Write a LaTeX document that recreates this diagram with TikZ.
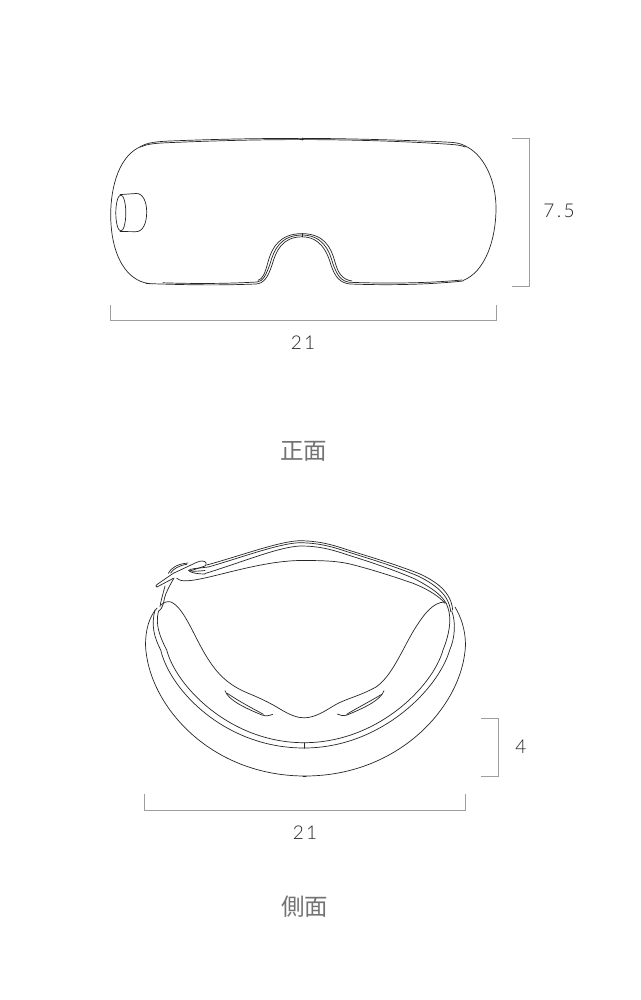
\documentclass[tikz,border=0pt]{standalone}
\usepackage{fontspec}
\newfontfamily\cjkf{Noto Sans CJK TC}
\newfontfamily\numf[LetterSpace=12,UprightFont=* Light]{Lato}
\tikzset{
  ink/.style={line width=0.7pt,draw=black!85,line cap=round,line join=round},
  dimline/.style={line width=0.55pt,draw=black!38},
  numlabel/.style={font=\numf\fontsize{19}{21}\selectfont,text=black!85,inner sep=0},
  caplabel/.style={font=\cjkf\fontsize{23.5}{25}\selectfont,text=black!55,inner sep=0},
}
\def\cc#1#2#3{.. controls #1 and #2 .. #3}
\begin{document}
\begin{tikzpicture}[x=1pt,y=-1pt]
\useasboundingbox[fill=white] (0,0) rectangle (640,1000);
% front view: outline
\draw[ink] (141,146.5) \cc{(120,155)}{(110.7,185)}{(110.7,215)} \cc{(110.7,245)}{(120,273)}{(141,281.5)} \cc{(143,282.5)}{(146,283)}{(150,283.7)};
\draw[ink] (465,146) \cc{(482,153)}{(496,178)}{(496,208)} \cc{(496,240)}{(485,272)}{(463,280.5)};
% front view: top seam
\draw[ink] (140,147) \cc{(147,142)}{(160,141.5)}{(170,141)} \cc{(220,139)}{(260,138.4)}{(302,138.4)} \cc{(345,138.4)}{(400,140)}{(445,142)} \cc{(455,142.5)}{(461,143)}{(466,146.5)};
\draw[ink] (142,146.5) \cc{(148,143.5)}{(160,143)}{(170,142.6)} \cc{(220,140.5)}{(260,139.6)}{(302,139.6)} \cc{(345,139.6)}{(400,141)}{(445,144)} \cc{(455,144.7)}{(461,145)}{(465,147)};
\draw[ink,line width=1pt] (302,138.2)--(302,140);
% front view: bottom seam and nose
\draw[ink] (146,283.5) \cc{(200,285.5)}{(230,285)}{(256,284)} \cc{(264,283.5)}{(268,277)}{(272,265)} \cc{(276,251)}{(282,237)}{(302,236.8)} \cc{(320,237)}{(327,251)}{(331,265)} \cc{(335,277)}{(340,283)}{(350,284)} \cc{(390,285.5)}{(430,284.5)}{(463,281)};
\draw[ink] (163,282.8) \cc{(200,284)}{(230,283.5)}{(257,282)} \cc{(263,281.5)}{(266,275)}{(270,264)} \cc{(274,249)}{(281,235.3)}{(302,235)} \cc{(322,235.3)}{(329,249)}{(333,264)} \cc{(337,275)}{(341,281.5)}{(350,282.3)} \cc{(390,283.8)}{(430,283)}{(462,280)};
\draw[ink] (258,280.3) \cc{(263,279)}{(265,273)}{(268,262)} \cc{(272,247)}{(280,233.8)}{(302,233.6)} \cc{(324,233.8)}{(331,247)}{(335,262)} \cc{(338,273)}{(342,279.5)}{(352,281)};
\draw[ink,line width=1pt] (302,233.6)--(302,236.8);
% front view: knob
\draw[ink] (120.8,213) ellipse [x radius=5,y radius=18];
\draw[ink] (120,194.6) -- (136,193.5) \cc{(143,193)}{(146.7,202)}{(146.7,212)} \cc{(146.7,223)}{(143,231.7)}{(136,231.7)} -- (120,231.5);
% side view: outer shell
\draw[ink] (157,608) \cc{(149,617)}{(145.5,630)}{(145.5,645)} \cc{(148,705)}{(210,776)}{(305,776)} \cc{(400,776)}{(463,705)}{(465.5,645)} \cc{(465.5,630)}{(461,617)}{(455,607)};
% side view: two rim lines
\draw[ink] (155,610) \cc{(151,625)}{(154,637)}{(160.7,650)} \cc{(170,690)}{(225,748)}{(304,748)} \cc{(380,748)}{(438,690)}{(449.7,650)} \cc{(455,638)}{(456,622)}{(451.7,611)};
\draw[ink] (158.5,611) \cc{(155,625)}{(160,637)}{(166.7,650)} \cc{(176,686)}{(230,742.7)}{(304,742.7)} \cc{(378,742.7)}{(433,686)}{(443,650)} \cc{(449,635)}{(452,620)}{(448,608)};
\draw[ink,line width=1pt] (304.7,743)--(304.7,748);
\draw[ink,line width=1pt] (303,776)--(306,776);
% side view: face opening
\draw[ink] (161,605) \cc{(164,602)}{(168,601)}{(171,602)} \cc{(185,608)}{(195,640)}{(210,662)} \cc{(222,680)}{(235,688)}{(250,694)} \cc{(262,699)}{(272,704)}{(280,709)} \cc{(290,715)}{(297,717.8)}{(304,717.8)} \cc{(315,717.8)}{(325,711)}{(335,705)} \cc{(345,699)}{(360,696)}{(376,687)} \cc{(392,676)}{(402,650)}{(414,630)} \cc{(424,614)}{(433,602)}{(445,602)};
% side view: eye slits
\draw[ink] (225,690.7) \cc{(228,700)}{(245,708)}{(262,715)} \cc{(266,716.5)}{(270,715.5)}{(272.7,714.3)};
\draw[ink] (227.3,693.3) \cc{(240,702)}{(252,708)}{(263.3,714.3)};
\draw[ink] (384,690.7) \cc{(381,700)}{(364,708)}{(347,715)} \cc{(343,716.5)}{(340,715)}{(337.3,714)};
\draw[ink] (381.7,694.3) \cc{(369,702)}{(357,708)}{(346.7,714.3)};
% side view: strap
\draw[ink] (206.7,565) \cc{(240,556)}{(280,541)}{(300,540.7)} \cc{(318,541)}{(330,544)}{(345,549)} \cc{(370,557)}{(395,564)}{(420,574)} \cc{(437,582)}{(451,592)}{(452.7,610)};
\draw[ink] (208.3,567) \cc{(240,558)}{(280,543)}{(300,542.7)} \cc{(318,543)}{(330,546)}{(345,551)} \cc{(370,559)}{(394,566)}{(418,576)} \cc{(434,584)}{(449,594)}{(450.7,611.7)};
\draw[ink] (205,573.5) \cc{(240,563)}{(278,547)}{(300,546)} \cc{(318,546)}{(330,549)}{(345,554)} \cc{(370,562)}{(392,569)}{(415,579)} \cc{(430,587)}{(445,596)}{(448,608)};
\draw[ink] (176.7,578.3) \cc{(180,582)}{(190,581)}{(200,579)} \cc{(225,574)}{(265,561)}{(300,560.5)} \cc{(318,560.5)}{(335,560.5)}{(350,564)} \cc{(372,569.5)}{(395,577)}{(413,583.3)} \cc{(425,588)}{(438,595)}{(445,603.3)};
% side view: buckle
\draw[ink] (173.3,578.3) -- (157,587) \cc{(155.5,587)}{(155.5,585.5)}{(157,584.5)} -- (173.3,573.3) -- (190,565.5) \cc{(195,563)}{(199,561)}{(202,561)} \cc{(206,561)}{(207.5,564)}{(205,566)} -- (190,571);
\draw[ink] (165,586) \cc{(163,594)}{(161,600)}{(160,606.7)};
\draw[ink] (174,578) \cc{(170,585)}{(166,592)}{(164.5,598)} \cc{(163.5,603)}{(163,608)}{(158.5,611.5)};
\draw[ink] (168.3,573.3) \cc{(171,568)}{(177,564)}{(188,563)};
\draw[ink] (170.7,573) \cc{(173,569)}{(179,565.5)}{(186.7,564.3)};
\draw[ink] (205,574) \cc{(198,574)}{(191,573)}{(188.5,570.5)} \cc{(190,568.5)}{(197,568.5)}{(208,567)};
\draw[ink] (190,571) \cc{(195,571.5)}{(200,571)}{(205,570.5)};
% dimensions
\draw[dimline] (512,138)--(529,138)--(529,286)--(512,286);
\draw[dimline] (110.5,305)--(110.5,320.5)--(496,320.5)--(496,305);
\draw[dimline] (481,718.5)--(498.5,718.5)--(498.5,776)--(481,776);
\draw[dimline] (144.5,794)--(144.5,810)--(465.5,810)--(465.5,794);
\node[numlabel] (h) at (559,210.5) {7.5};
\node[numlabel] (w) at (303,342.5) {21};
\node[numlabel] (t) at (521,747) {4};
\node[numlabel] (s) at (305,832.5) {21};
\node[caplabel] (front) at (303.5,451) {正面};
\node[caplabel] (side) at (304.5,907) {側面};
\end{tikzpicture}
\end{document}
